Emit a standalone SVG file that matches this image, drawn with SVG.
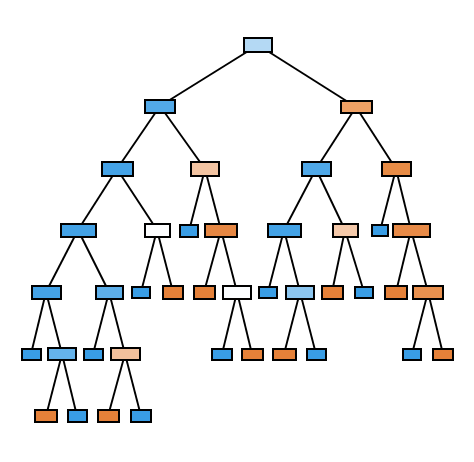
<svg xmlns="http://www.w3.org/2000/svg" width="474" height="462" viewBox="0 0 474 462">
<style>
.n{stroke:#000;stroke-width:2}
.e line{stroke:#000;stroke-width:1.9}
.b{fill:#399de5}.o{fill:#e58139}
</style>
<rect width="474" height="462" fill="#fff"/>
<g class="e">
<line x1="258" y1="45" x2="160" y2="106"/><line x1="258" y1="45" x2="356" y2="107"/>
<line x1="160" y1="106" x2="117" y2="169"/><line x1="160" y1="106" x2="205" y2="169"/>
<line x1="356" y1="107" x2="316" y2="169"/><line x1="356" y1="107" x2="396" y2="169"/>
<line x1="117" y1="169" x2="78" y2="230"/><line x1="117" y1="169" x2="157" y2="230"/>
<line x1="205" y1="169" x2="189" y2="231"/><line x1="205" y1="169" x2="221" y2="230"/>
<line x1="316" y1="169" x2="284" y2="230"/><line x1="316" y1="169" x2="345" y2="230"/>
<line x1="396" y1="169" x2="380" y2="231"/><line x1="396" y1="169" x2="411" y2="230"/>
<line x1="78" y1="230" x2="46" y2="292"/><line x1="78" y1="230" x2="109" y2="292"/>
<line x1="157" y1="230" x2="141" y2="292"/><line x1="157" y1="230" x2="173" y2="292"/>
<line x1="221" y1="230" x2="204" y2="292"/><line x1="221" y1="230" x2="237" y2="292"/>
<line x1="284" y1="230" x2="268" y2="292"/><line x1="284" y1="230" x2="300" y2="292"/>
<line x1="345" y1="230" x2="332" y2="292"/><line x1="345" y1="230" x2="364" y2="292"/>
<line x1="411" y1="230" x2="396" y2="292"/><line x1="411" y1="230" x2="428" y2="292"/>
<line x1="46" y1="292" x2="31" y2="354"/><line x1="46" y1="292" x2="62" y2="354"/>
<line x1="109" y1="292" x2="93" y2="354"/><line x1="109" y1="292" x2="125" y2="354"/>
<line x1="237" y1="292" x2="222" y2="354"/><line x1="237" y1="292" x2="252" y2="354"/>
<line x1="300" y1="292" x2="284" y2="354"/><line x1="300" y1="292" x2="316" y2="354"/>
<line x1="428" y1="292" x2="412" y2="354"/><line x1="428" y1="292" x2="443" y2="354"/>
<line x1="62" y1="354" x2="46" y2="416"/><line x1="62" y1="354" x2="77" y2="416"/>
<line x1="125" y1="354" x2="108" y2="416"/><line x1="125" y1="354" x2="141" y2="416"/>
</g>
<g id="root"><rect class="n" x="244" y="38" width="28" height="14" fill="#b4d9f4"/></g>
<g id="n1"><rect class="n" x="145" y="100" width="30" height="13" fill="#52a9e8"/></g>
<g id="n2"><rect class="n" x="341" y="101" width="31" height="12" fill="#eea064"/></g>
<g id="n3"><rect class="n" x="102" y="162" width="31" height="14" fill="#45a3e7"/></g>
<g id="n4"><rect class="n" x="191" y="162" width="28" height="14" fill="#f3c4a2"/></g>
<g id="n5"><rect class="n" x="302" y="162" width="29" height="14" fill="#4fa8e8"/></g>
<g id="n6"><rect class="n" x="382" y="162" width="29" height="14" fill="#e88c46"/></g>
<g id="n7"><rect class="n" x="61" y="224" width="35" height="13" fill="#43a2e6"/></g>
<g id="n8"><rect class="n" x="145" y="224" width="25" height="13" fill="#fdfeff"/></g>
<g id="n9"><rect class="n b" x="180" y="225" width="18" height="12"/></g>
<g id="n10"><rect class="n" x="205" y="224" width="32" height="13" fill="#e68743"/></g>
<g id="n11"><rect class="n" x="268" y="224" width="33" height="13" fill="#43a2e6"/></g>
<g id="n12"><rect class="n" x="333" y="224" width="25" height="13" fill="#f4c9aa"/></g>
<g id="n13"><rect class="n b" x="372" y="225" width="16" height="11"/></g>
<g id="n14"><rect class="n" x="393" y="224" width="37" height="13" fill="#e78a47"/></g>
<g id="n15"><rect class="n" x="32" y="286" width="29" height="13" fill="#44a2e6"/></g>
<g id="n16"><rect class="n" x="96" y="286" width="27" height="13" fill="#5dafea"/></g>
<g id="n17"><rect class="n b" x="132" y="287" width="18" height="11"/></g>
<g id="n18"><rect class="n o" x="163" y="286" width="20" height="13"/></g>
<g id="n19"><rect class="n o" x="194" y="286" width="21" height="13"/></g>
<g id="n20"><rect class="n" x="223" y="286" width="28" height="13" fill="#fbfdff"/></g>
<g id="n21"><rect class="n b" x="259" y="287" width="18" height="11"/></g>
<g id="n22"><rect class="n" x="286" y="286" width="28" height="13" fill="#8cc6f0"/></g>
<g id="n23"><rect class="n o" x="322" y="286" width="21" height="13"/></g>
<g id="n24"><rect class="n b" x="355" y="287" width="18" height="11"/></g>
<g id="n25"><rect class="n o" x="385" y="286" width="22" height="13"/></g>
<g id="n26"><rect class="n" x="413" y="286" width="30" height="13" fill="#e9914f"/></g>
<g id="n27"><rect class="n b" x="22" y="349" width="19" height="11"/></g>
<g id="n28"><rect class="n" x="48" y="348" width="28" height="12" fill="#65b3eb"/></g>
<g id="n29"><rect class="n b" x="84" y="349" width="19" height="11"/></g>
<g id="n30"><rect class="n" x="111" y="348" width="29" height="12" fill="#f2c09c"/></g>
<g id="n31"><rect class="n b" x="212" y="349" width="20" height="11"/></g>
<g id="n32"><rect class="n o" x="242" y="349" width="21" height="11"/></g>
<g id="n33"><rect class="n o" x="273" y="349" width="23" height="11"/></g>
<g id="n34"><rect class="n b" x="307" y="349" width="19" height="11"/></g>
<g id="n35"><rect class="n b" x="403" y="349" width="18" height="11"/></g>
<g id="n36"><rect class="n o" x="433" y="349" width="20" height="11"/></g>
<g id="n37"><rect class="n o" x="35" y="410" width="22" height="12"/></g>
<g id="n38"><rect class="n b" x="68" y="410" width="19" height="12"/></g>
<g id="n39"><rect class="n o" x="98" y="410" width="21" height="12"/></g>
<g id="n40"><rect class="n b" x="131" y="410" width="20" height="12"/></g>
</svg>
